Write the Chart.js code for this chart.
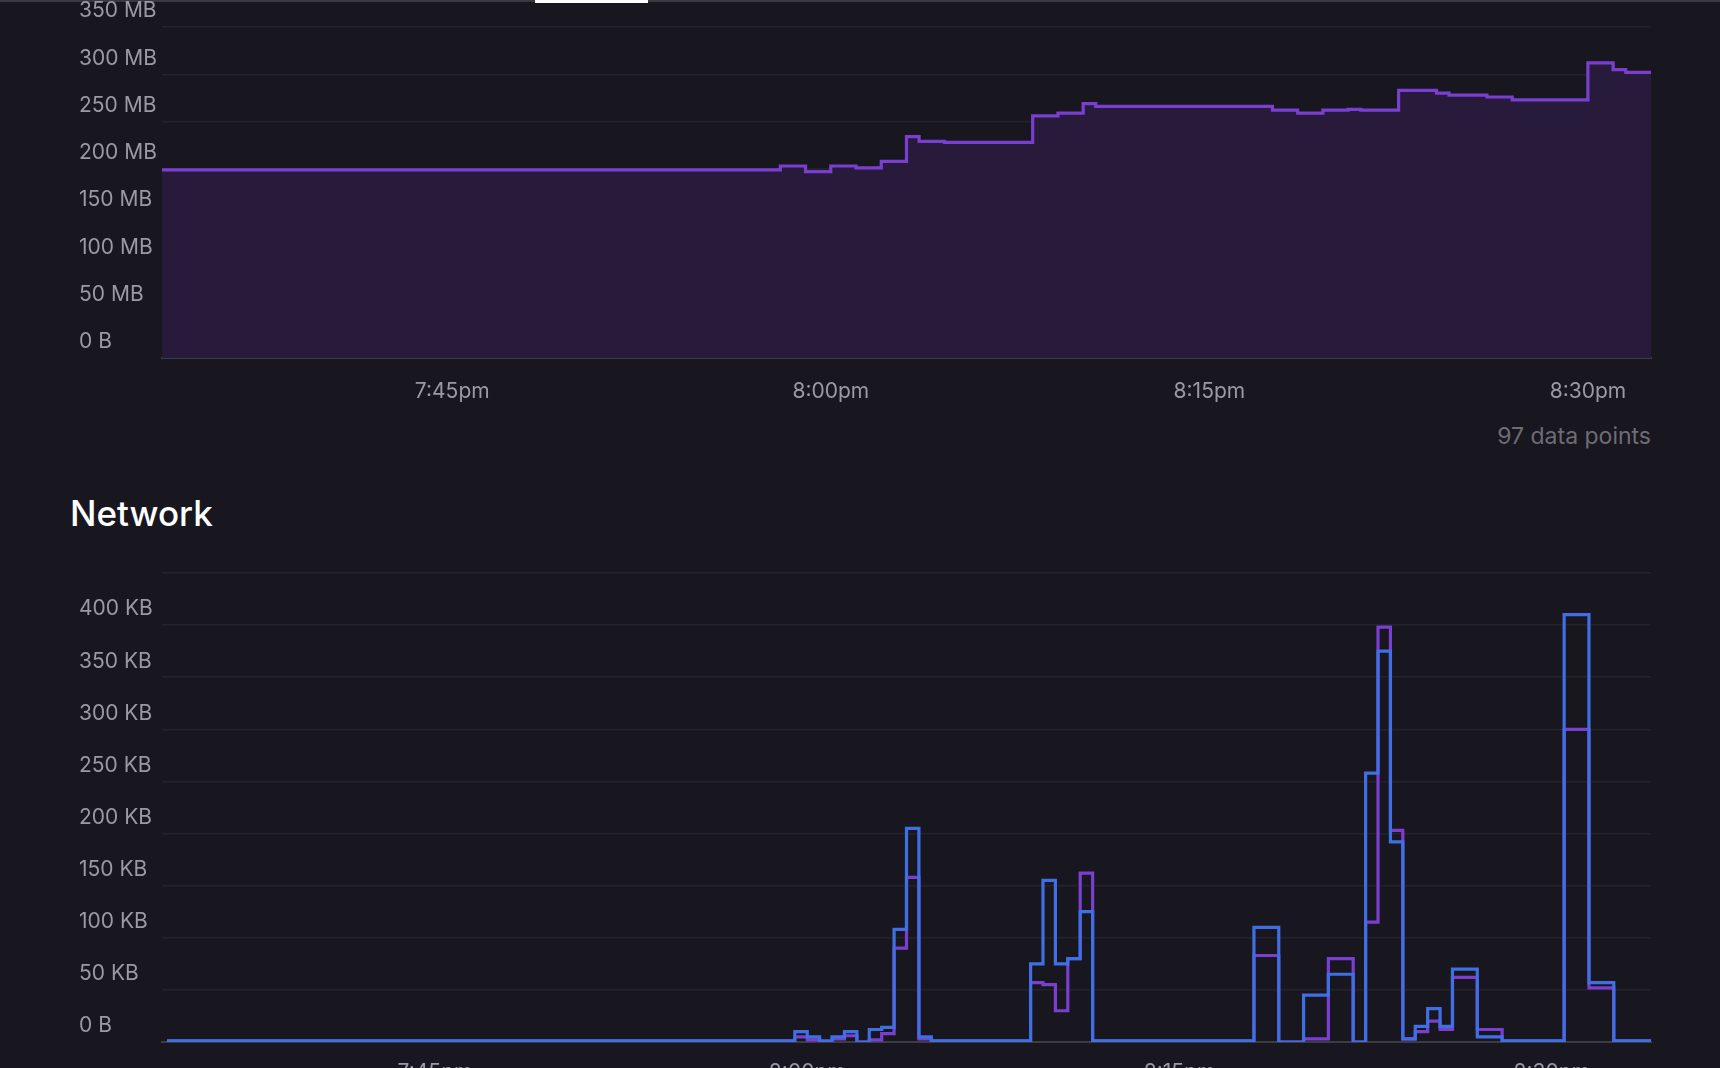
<!DOCTYPE html>
<html><head><meta charset="utf-8">
<script src="https://cdn.jsdelivr.net/npm/chart.js@4"></script>
<style>
html,body{margin:0;padding:0;background:#18171f;width:1720px;height:1068px;overflow:hidden;font-family:Inter,"Noto Sans",sans-serif}
#topbar{position:absolute;left:0;top:0;width:1720px;height:2px;background:#3a3942}
#topsel{position:absolute;left:535px;top:0;width:113px;height:3px;background:#ffffff}
.box{position:absolute;left:0;width:1720px}
#memBox{top:0;height:418px}
#netBox{top:542px;height:528px}
#pts{position:absolute;right:69px;top:422px;color:#6d6c76;font-size:23px}
#title{position:absolute;left:70px;top:492px;color:#ffffff;font-size:35px;font-weight:500}
</style></head><body>
<div id="topbar"></div><div id="topsel"></div>
<div class="box" id="memBox"><canvas id="mem"></canvas></div>
<div id="pts">97 data points</div>
<div id="title">Network</div>
<div class="box" id="netBox"><canvas id="net"></canvas></div>
<script>
// minutes after 7:30pm
const memMinutes = [3.5,28,29,30,31,32,33,33.5,34.5,38,39,40,40.5,47.5,48.5,49.5,50.5,51,52.5,54,54.5,56,57,60,61,61.5,62.5];
const memMB      = [199,203,197,203,201,208,234,229,228,256,259,269,266,262,259,262,263,262,283,280,278,276,273,312,305,302,302];

const netMinutes = [4.2,29.5,30,30.5,31,31.5,32,32.5,33,33.5,34,34.5,35,39,39.5,40,40.5,41,41.5,48,49,50,51,52,52.5,53,53.5,54,54.5,55,55.5,56,57,58,60.5,61.5,62.5,64];
const netBlueKB  = [1,10,5,1,5,10,0,12,14,108,205,5,1,75,155,75,80,125,1,110,0,45,65,0,258,375,192,3,15,32,15,70,5,1,410,57,1,1];
const netPurpleKB= [1,5,2,0,3,6,0,2,8,90,158,3,1,57,55,30,80,162,1,83,0,3,80,0,115,398,203,3,10,20,12,62,12,1,300,52,1,1];

const xTickValues = [15,30,45,60];
const xTickLabels = ['7:45pm','8:00pm','8:15pm','8:30pm'];

const tickColor = '#9b9aa4';
const gridColor = '#24232c';
const font = {family:'Inter', size:21};

// point i's value holds over the interval [x_i, x_{i+1}]
function pts(xs, ys){
  const out = [{x:xs[0], y:ys[0]}];
  for (let i=1;i<xs.length;i++) out.push({x:xs[i], y:ys[i-1]}, {x:xs[i], y:ys[i]});
  return out;
}

function baseOptions(minX, maxX, maxY, unit, topPad, xh, xpad){
  return {
    responsive:true, maintainAspectRatio:false, animation:false,
    layout:{padding:{left:79, right:69, top:topPad, bottom:0}},
    plugins:{legend:{display:false}, tooltip:{enabled:false}},
    elements:{point:{radius:0}, line:{tension:0}},
    scales:{
      x:{type:'linear', min:minX, max:maxX,
        afterBuildTicks:(s)=>{s.ticks = xTickValues.map(v=>({value:v}));},
        afterFit:(s)=>{s.height = xh;},
        grid:{display:false},
        border:{display:true, color:'#3d3c45', width:2},
        ticks:{color:tickColor, font, padding:xpad, maxRotation:0,
          callback:(v)=>xTickLabels[xTickValues.indexOf(v)] ?? ''}},
      y:{min:0, max:maxY,
        afterFit:(s)=>{s.width = 83;},
        grid:{color:gridColor, lineWidth:1.5, drawTicks:false},
        border:{display:false},
        ticks:{stepSize:50, color:tickColor, font, padding:0, crossAlign:'far', labelOffset:-16,
          callback:(v)=> v===maxY ? (unit==='MB'? '350 MB':'') : (v===0 ? '0 B' : v+' '+unit)}}
    }
  };
}

new Chart(document.getElementById('mem'), {
  type:'line',
  data:{datasets:[{data:pts(memMinutes, memMB), borderColor:'#7a3fd1', borderWidth:3.2,
    fill:'origin', backgroundColor:'#271a3a'}]},
  options: baseOptions(3.5, 62.5, 350, 'MB', 27, 60, 13)
});

new Chart(document.getElementById('net'), {
  type:'line',
  data:{datasets:[
    {data:pts(netMinutes, netBlueKB), borderColor:'#3f6fe3', borderWidth:3.2, fill:false},
    {data:pts(netMinutes, netPurpleKB), borderColor:'#7a3fd1', borderWidth:3.2, fill:false}
  ]},
  options: baseOptions(4.0, 64, 450, 'KB', 31, 28, 10)
});
</script>
</body></html>
